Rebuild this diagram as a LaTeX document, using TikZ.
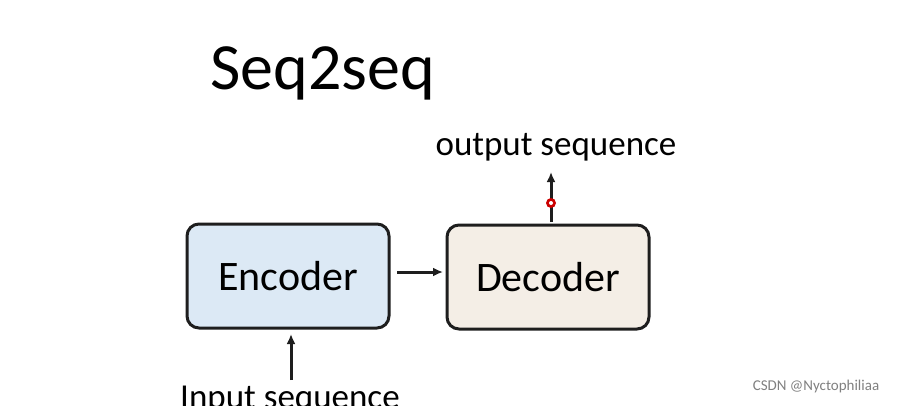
\documentclass[tikz,border=0pt]{standalone}
\usepackage{fontspec}
\setmainfont{Carlito}
\usetikzlibrary{arrows.meta}
\definecolor{encfill}{RGB}{220,233,245}
\definecolor{decfill}{RGB}{244,238,230}
\definecolor{edge}{RGB}{30,30,30}
\begin{document}
\begin{tikzpicture}[x=1pt,y=-1pt,
  box/.style={draw=edge,line width=3pt,rounded corners=12pt,minimum width=202pt,minimum height=104pt,font=\fontsize{42}{46}\selectfont},
  arr/.style={-{Latex[length=10pt,width=9pt]},line width=3pt,draw=edge},
  lbl/.style={font=\fontsize{35}{38}\selectfont,text=black}]
\clip (0,0) rectangle (912,405);
\fill[white] (0,0) rectangle (912,405);
\node[font=\fontsize{66}{70}\selectfont] (title) at (323,73) {Seq2seq};
\node[box,fill=encfill] (enc) at (288,276) {Encoder};
\node[box,fill=decfill] (dec) at (548,277) {Decoder};
\coordinate (a1) at (397,272);
\coordinate (a2) at (443,272);
\draw[arr] (a1) -- (a2);
\coordinate (otop) at (551,172);
\coordinate (obot) at (551,222);
\draw[arr] (obot) -- (otop);
\node[lbl] (out) at (556,147) {output sequence};
\fill[red!80!black] (551,203) circle (5pt);
\fill[white] (551,203) circle (2pt);
\coordinate (ibot) at (291,380);
\coordinate (itop) at (291,334);
\draw[arr] (ibot) -- (itop);
\node[lbl] (in) at (290,400) {Input sequence};
\node[font=\fontsize{15}{17}\selectfont,text=gray] (wm) at (816,386) {CSDN @Nyctophiliaa};
\end{tikzpicture}
\end{document}
